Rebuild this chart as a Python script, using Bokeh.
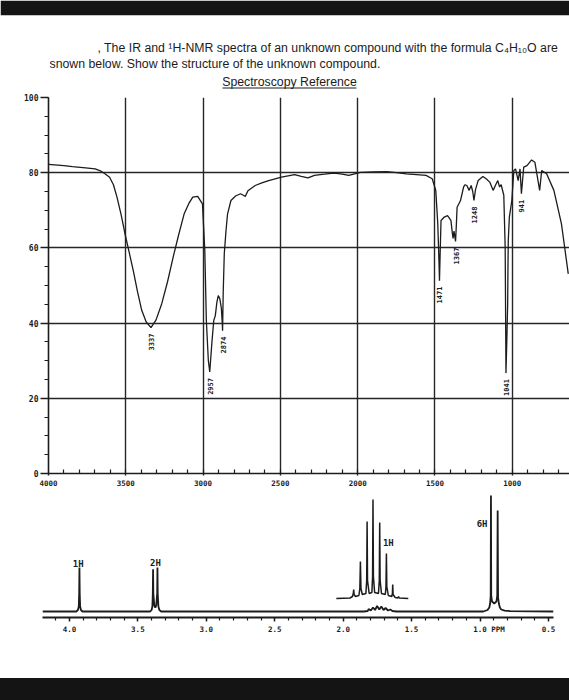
from math import pi
from bokeh.plotting import figure
from bokeh.layouts import column
from bokeh.models import Range1d, FixedTicker, Label, Spacer, PrintfTickFormatter
from bokeh.embed import file_html
from bokeh.resources import INLINE
from bokeh.core.properties import value

# ---------------- data ----------------
# IR spectrum: wavenumber (cm-1) and % transmittance
ir_wavenumber = [
    4000, 3900, 3845, 3760, 3698, 3660, 3635, 3605, 3580, 3557,
    3530, 3505, 3478, 3452, 3425, 3397, 3368, 3337, 3305, 3268,
    3230, 3194, 3158, 3123, 3090, 3067, 3035, 3004, 2989, 2979,
    2966, 2957, 2950, 2942, 2931, 2921, 2911, 2902, 2892, 2882,
    2876, 2874, 2870, 2863, 2852, 2842, 2820, 2790, 2758, 2740,
    2727, 2710, 2663, 2620, 2576, 2493, 2408, 2365, 2322, 2280,
    2215, 2153, 2100, 2058, 1982, 1900, 1812, 1750, 1685, 1620,
    1558, 1518, 1495, 1482, 1474, 1471, 1467, 1461, 1440, 1419,
    1397, 1388, 1383, 1377, 1367, 1362, 1357, 1335, 1315, 1305,
    1294, 1279, 1266, 1256, 1248, 1238, 1221, 1190, 1169, 1146,
    1124, 1105, 1094, 1082, 1072, 1055, 1046, 1043, 1041, 1035,
    1030, 1028, 1026, 1019, 1003, 990, 979, 962, 950, 941,
    926, 905, 875, 854, 823, 810, 778, 731, 682, 638,
]
ir_transmittance = [
    82.2, 81.9, 81.6, 81.3, 81.0, 80.4, 79.7, 78.8, 76.8, 73.5,
    68.8, 63.7, 58.8, 54.0, 48.5, 43.4, 40.3, 38.8, 40.8, 45.1,
    51.0, 57.5, 63.5, 69.0, 72.0, 73.5, 73.7, 71.7, 59.3, 40.7,
    30.0, 27.0, 31.0, 35.4, 40.7, 42.0, 45.5, 47.3, 46.5, 44.0,
    40.0, 38.0, 48.0, 58.4, 64.5, 69.0, 72.6, 73.8, 74.4, 74.0,
    73.7, 75.2, 76.6, 77.3, 77.9, 78.8, 79.5, 79.0, 78.6, 79.3,
    79.6, 79.9, 79.6, 79.3, 80.1, 80.2, 80.3, 80.0, 79.7, 79.5,
    79.3, 78.4, 75.3, 66.4, 56.0, 51.3, 58.0, 67.3, 68.2, 68.6,
    67.3, 64.0, 62.5, 64.5, 61.7, 66.0, 70.8, 72.6, 76.2, 76.8,
    76.6, 75.3, 76.6, 75.0, 72.6, 75.5, 77.9, 79.0, 78.4, 77.5,
    75.3, 77.0, 77.9, 76.2, 76.8, 74.0, 60.0, 40.0, 26.7, 36.0,
    45.0, 55.0, 62.0, 68.2, 72.6, 80.6, 81.0, 77.9, 81.0, 74.4,
    81.5, 81.9, 83.4, 82.8, 75.3, 80.6, 79.7, 75.3, 66.4, 53.1,
]
ir_peak_wavenumber = [3337, 2957, 2874, 1471, 1367, 1248, 1041, 941]
ir_peak_transmittance = [38.8, 27.0, 38.0, 51.3, 61.7, 72.6, 26.7, 74.4]
ir_x_ticks = [4000, 3500, 3000, 2500, 2000, 1500, 1000]
ir_y_ticks = [0, 20, 40, 60, 80, 100]

# 1H-NMR spectrum: chemical shift (ppm) and intensity
nmr_ppm = [
    4.197, 3.950, 3.938, 3.932, 3.929, 3.927, 3.925, 3.922, 3.916, 3.905,
    3.410, 3.400, 3.394, 3.391, 3.389, 3.387, 3.380, 3.373, 3.366, 3.359,
    3.357, 3.355, 3.350, 3.343, 3.330,
    1.850, 1.820, 1.814, 1.798, 1.782, 1.767, 1.752, 1.736, 1.721, 1.705,
    1.690, 1.672, 1.655, 1.640, 1.610,
    0.975, 0.945, 0.932, 0.926, 0.922, 0.920, 0.918, 0.912, 0.896, 0.880,
    0.874, 0.871, 0.868, 0.862, 0.855, 0.845, 0.820, 0.780, 0.463,
]
nmr_intensity = [
    0, 0, 1.5, 5, 18, 44, 18, 5, 1.5, 0,
    0, 1.5, 5, 18, 42.3, 18, 6, 4, 6, 18,
    44, 18, 5, 1.5, 0,
    0, 0.5, 2.5, 1, 4, 1.5, 5.5, 2, 5, 1.5,
    3.5, 1, 2, 0.5, 0,
    0, 1.5, 4, 8, 16, 116, 16, 10, 8, 10,
    16, 101, 14, 8, 4, 2, 0.8, 0.3, 0,
]
# expanded multiplet drawn above the spectrum
nmr_inset_ppm = [
    2.050, 1.950, 1.932, 1.926, 1.923, 1.920, 1.910,
    1.885, 1.878, 1.874, 1.870, 1.860,
    1.834, 1.828, 1.825, 1.822, 1.810,
    1.790, 1.785, 1.782, 1.779, 1.770,
    1.742, 1.736, 1.733, 1.730, 1.720,
    1.692, 1.687, 1.684, 1.681, 1.670,
    1.645, 1.640, 1.638, 1.635, 1.620,
    1.600, 1.595, 1.590, 1.524,
]
nmr_inset_intensity = [
    0, 0.5, 2, 5, 9, 4, 2,
    3, 10, 37, 10, 4,
    5, 18, 77, 18, 5,
    6, 22, 99, 22, 6,
    5, 18, 76, 18, 5,
    4, 12, 45, 12, 3,
    2, 5, 14, 4, 1,
    0.5, 2, 0.5, 0,
]
nmr_integrals = ["1H", "2H", "1H", "6H"]
nmr_integral_ppm = [3.936, 3.372, 1.670, 0.985]
nmr_integral_height = [48, 49, 69, 88]
nmr_x_ticks = [4.0, 3.5, 3.0, 2.5, 2.0, 1.5, 1.0, 0.5]
nmr_unit = "PPM"

# ---------------- styling ----------------
W = 569
INK = "#1c1c1c"
BAR = "#141414"
MONO = "DejaVu Sans Mono"
SANS = "Liberation Sans"
NBSP = "\u00a0"

# ---------------- header ----------------
hdr = figure(width=W, height=90, x_range=Range1d(0, W), y_range=Range1d(90, 15),
             toolbar_location=None, output_backend="svg", title=None,
             x_axis_type=None, y_axis_type=None, min_border=0, min_border_top=15)
hdr.frame_align = False
hdr.outline_line_color = None
hdr.border_fill_color = BAR
hdr.background_fill_color = "white"
hdr.grid.visible = False

def header_text(x, y, text, align="left"):
    hdr.add_layout(Label(x=x, y=y, text=text, text_font=SANS, text_font_size="12.3px",
                         text_color=INK, text_align=align, text_baseline="middle"))

header_text(97, 47, ", The IR and \u00b9H-NMR spectra of an unknown compound with the formula C\u2084H\u2081\u2080O are")
header_text(49, 63, "snown below. Show the structure of the unknown compound.")
header_text(289, 81, "Spectroscopy Reference", align="center")
hdr.segment(x0=[222], y0=[87.5], x1=[356], y1=[87.5], line_color=INK, line_width=1)

# ---------------- IR spectrum ----------------
ir = figure(width=W, height=400, x_range=Range1d(4000, 630), y_range=Range1d(0, 100),
            toolbar_location=None, output_backend="svg", title=None,
            min_border_left=48, min_border_right=0, min_border_top=7, min_border_bottom=17)
ir.frame_align = False
ir.outline_line_color = None
ir.background_fill_color = "white"
ir.border_fill_color = "white"

ir.xaxis.ticker = FixedTicker(ticks=ir_x_ticks, minor_ticks=list(range(3900, 600, -100)))
ir.yaxis.ticker = FixedTicker(ticks=ir_y_ticks, minor_ticks=list(range(0, 101, 5)))
ir.xgrid.ticker = FixedTicker(ticks=ir_x_ticks[1:])
ir.ygrid.ticker = FixedTicker(ticks=ir_y_ticks[1:])
for g in (ir.xgrid, ir.ygrid):
    g.grid_line_color = "#262626"
    g.grid_line_width = 1.4

for ax in (ir.xaxis, ir.yaxis):
    ax.axis_line_color = INK
    ax.axis_line_width = 1.6
    ax.major_tick_line_color = INK
    ax.minor_tick_line_color = INK
    ax.major_tick_line_width = 1.4
    ax.minor_tick_line_width = 1.2
    ax.major_label_text_font = MONO
    ax.major_label_text_font_style = "bold"
    ax.major_label_text_color = INK
ir.xaxis.major_label_text_font_size = "7.5px"
ir.xaxis.major_tick_in = 0
ir.xaxis.major_tick_out = 2
ir.xaxis.minor_tick_in = 4
ir.xaxis.minor_tick_out = 0
ir.xaxis.major_label_standoff = 4
ir.yaxis.major_label_text_font_size = "8px"
ir.yaxis.major_tick_in = 0
ir.yaxis.major_tick_out = 8
ir.yaxis.minor_tick_in = 0
ir.yaxis.minor_tick_out = 4
ir.yaxis.major_label_standoff = 2

ir.line(ir_wavenumber, ir_transmittance, line_color=INK, line_width=1.3)
ir.text(x=ir_peak_wavenumber, y=[t - 1.6 for t in ir_peak_transmittance],
        text=[str(v) for v in ir_peak_wavenumber], angle=pi / 2,
        text_align="right", text_baseline="middle", text_font=value(MONO),
        text_font_style="bold", text_font_size="7px", text_color=INK)

# ---------------- 1H-NMR spectrum ----------------
nmr = figure(width=W, height=188, x_range=Range1d(4.197, 0.463), y_range=Range1d(-6, 121),
             toolbar_location=None, output_backend="svg", title=None, y_axis_type=None,
             min_border_left=42, min_border_right=16, min_border_top=0, min_border_bottom=61)
nmr.frame_align = False
nmr.outline_line_color = None
nmr.grid.visible = False
nmr.background_fill_color = "white"
nmr.border_fill_color = "white"

nmr.xaxis.ticker = FixedTicker(ticks=nmr_x_ticks,
                               minor_ticks=[round(4.1 - 0.1 * i, 1) for i in range(37)])
nmr.xaxis.formatter = PrintfTickFormatter(format="%.1f")
# the unit follows the 1.0 label; mono padding keeps "1.0" centred on its tick
unit_label = "%.1f" % 1.0 + NBSP + nmr_unit
nmr.xaxis.major_label_overrides = {1.0: NBSP * (len(unit_label) - 3) + unit_label}
nmr.xaxis.axis_line_color = INK
nmr.xaxis.axis_line_width = 2
nmr.xaxis.major_tick_line_color = INK
nmr.xaxis.minor_tick_line_color = INK
nmr.xaxis.major_tick_line_width = 1.4
nmr.xaxis.minor_tick_line_width = 1.2
nmr.xaxis.major_tick_in = 0
nmr.xaxis.major_tick_out = 4
nmr.xaxis.minor_tick_in = 0
nmr.xaxis.minor_tick_out = 3
nmr.xaxis.major_label_standoff = 3
nmr.xaxis.major_label_text_font = MONO
nmr.xaxis.major_label_text_font_style = "bold"
nmr.xaxis.major_label_text_font_size = "7.5px"
nmr.xaxis.major_label_text_color = INK

nmr.line(nmr_ppm, nmr_intensity, line_color=INK, line_width=1.8)
inset_offset = 13
nmr.line(nmr_inset_ppm, [inset_offset + v for v in nmr_inset_intensity],
         line_color=INK, line_width=1.5)
nmr.text(x=nmr_integral_ppm, y=nmr_integral_height, text=nmr_integrals,
         text_align="center", text_baseline="middle", text_font=value(MONO),
         text_font_style="bold", text_font_size="9px", text_color=INK)

footer = Spacer(width=W, height=22, styles={"background-color": BAR})

layout = column(hdr, ir, nmr, footer, spacing=0)
open("out.html", "w").write(file_html(layout, INLINE))
